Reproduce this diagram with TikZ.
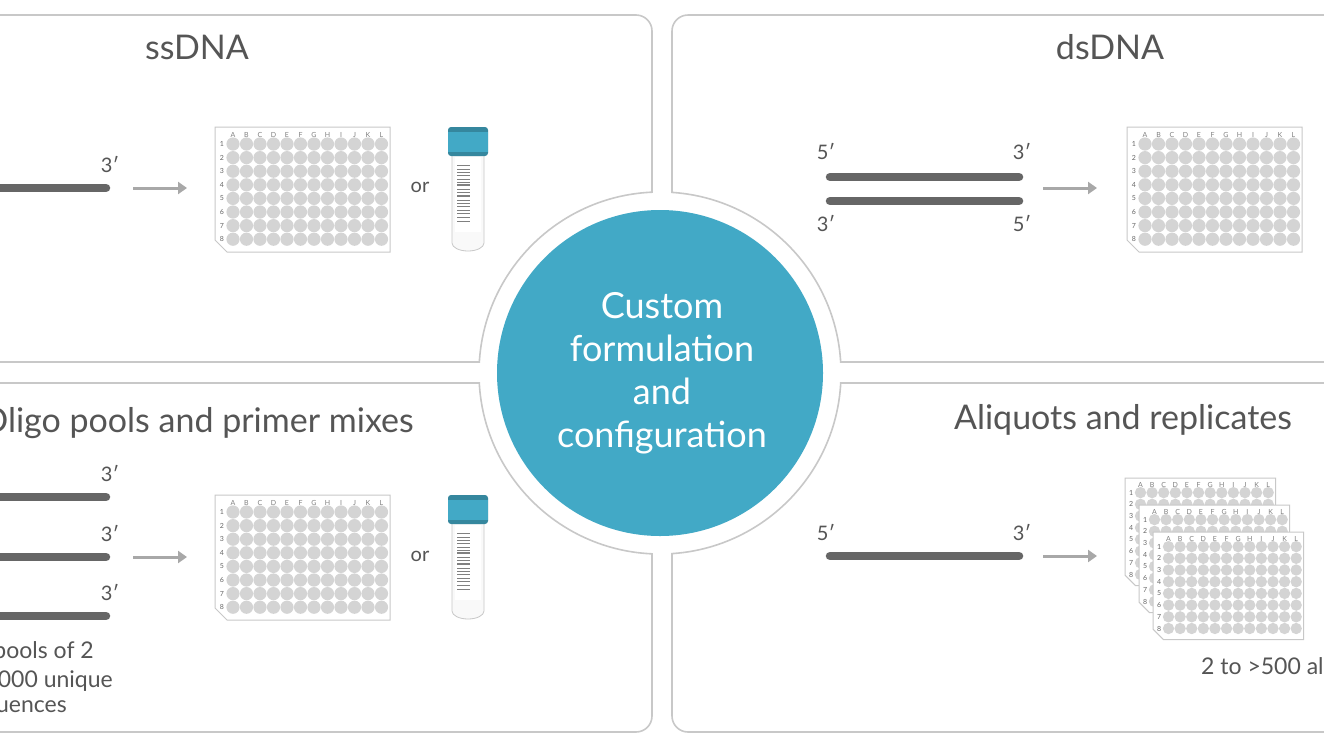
\documentclass[tikz,border=0pt]{standalone}
\usepackage{fontspec}
\setmainfont{Lato}
\usetikzlibrary{arrows.meta}
\begin{document}
\definecolor{teal1}{HTML}{42A9C6}
\definecolor{pan}{HTML}{C8C8C8}
\definecolor{strand}{HTML}{666666}
\definecolor{arr}{HTML}{A8A8A8}
\definecolor{well}{HTML}{D4D4D4}
\definecolor{txt}{HTML}{555555}
\begin{tikzpicture}[x=1pt,y=-1pt,
  panel/.style={draw=pan,line width=1.6pt,rounded corners=16pt,fill=white},
  strand/.style={line width=8.5pt,line cap=round,draw=strand},
  arrow/.style={line width=3pt,draw=arr,-{Triangle[length=9pt,width=12pt]}},
  lbl/.style={text=txt,font=\fontsize{20}{21}\selectfont,inner sep=0pt},
  big/.style={text=txt,font=\fontsize{23}{24}\selectfont,inner sep=0pt},
  title/.style={text=txt,font=\fontsize{34}{36}\selectfont,inner sep=0pt},
  pics/plate/.style={code={
    \draw[pan,line width=1pt,fill=white] (0,0) -- (175,0) -- (175,125) -- (12,125) -- (0,113) -- cycle;
    \foreach \l [count=\i] in {A,B,C,D,E,F,G,H,I,J,K,L}
      \node[text=gray,font=\fontsize{7}{7}\selectfont,inner sep=0pt] at (18+\i*13.5-13.5,8) {\l};
    \foreach \r in {1,...,8}{
      \node[text=gray!80!black,font=\fontsize{7}{7}\selectfont,inner sep=0pt] at (7,17+\r*13.6-13.6) {\r};
      \foreach \c in {1,...,12}
        \fill[well] (18+\c*13.5-13.5,17+\r*13.6-13.6) circle (6.6);}
  }},
  pics/tube/.style={code={
    \draw[pan,line width=0.8pt,fill=gray!5] (4,27) -- (4,116) arc[start angle=180,end angle=0,x radius=16,y radius=8] -- (36,27);
    \fill[white] (7,30) rectangle (33,105);
    \fill[teal1!80!black,rounded corners=3pt] (0,0) rectangle (40,29);
    \fill[teal1] (0,5) rectangle (40,25);
    \foreach \yy/\w in {38/0.6,42/0.6,45/0.6,48/0.8,52/0.6,55/0.6,58/1.2,62/0.6,65/0.6,69/1.2,73/0.6,76/0.6,79/0.6,83/0.6,86/0.6,90/0.6,94/0.6}
      \draw[gray,line width=\w pt] (9,\yy) -- (22,\yy);
  }}
]
\useasboundingbox (0,0) rectangle (1324,745);
\begin{scope}
\clip (0,0) rectangle (1324,745);
% panels
\draw[panel] (-40,15) rectangle (652,362);
\draw[panel] (672,15) rectangle (1380,362);
\draw[panel] (-40,383) rectangle (652,732);
\draw[panel] (672,383) rectangle (1380,732);
% ring
\draw[pan,line width=1.6pt,fill=white] (660,373) circle (181);
\fill[white] (653,100) rectangle (671,650);
\fill[white] (380,363) rectangle (940,382);
\fill[teal1] (660,373) circle (163);
\node[text=white,align=center,font=\fontsize{36}{43}\selectfont] (c) at (662,373) {Custom\\formulation\\and\\configuration};
% titles
\node[title] (t1) at (197,47) {ssDNA};
\node[title] (t2) at (1110,47) {dsDNA};
\node[title,anchor=east] (t3) at (414,423) {Oligo pools and primer mixes};
\node[title] (t4) at (1123,420) {Aliquots and replicates};
% ssDNA
\coordinate (s1a) at (-20,188); \coordinate (s1b) at (106,188);
\draw[strand] (s1a) -- (s1b);
\node[lbl] (l1) at (110,165) {3′};
\coordinate (a1a) at (133,188); \coordinate (a1b) at (187,188);
\draw[arrow] (a1a) -- (a1b);
\pic at (215,127) {plate};
\node[lbl] (or1) at (420,187) {or};
\pic at (448,127) {tube};
% dsDNA
\coordinate (d1a) at (830,177); \coordinate (d1b) at (1019,177);
\coordinate (d2a) at (830,201); \coordinate (d2b) at (1019,201);
\draw[strand] (d1a) -- (d1b); \draw[strand] (d2a) -- (d2b);
\node[lbl] (l2) at (826,152) {5′};
\node[lbl] (l3) at (1022,152) {3′};
\node[lbl] (l4) at (826,224) {3′};
\node[lbl] (l5) at (1022,224) {5′};
\coordinate (a2a) at (1043,188); \coordinate (a2b) at (1097,188);
\draw[arrow] (a2a) -- (a2b);
\pic at (1127,127) {plate};
\node[lbl] (or2) at (1338,187) {or};
% pools
\foreach \yy/\n in {497/p1,557/p2,616/p3}{
  \draw[strand] (-20,\yy) coordinate (\n a) -- (106,\yy) coordinate (\n b);
  \node[lbl] (\n l) at (110,\yy-23) {3′};}
\coordinate (a3a) at (133,557); \coordinate (a3b) at (187,557);
\draw[arrow] (a3a) -- (a3b);
\pic at (215,495) {plate};
\node[lbl] (or3) at (420,556) {or};
\pic at (448,495) {tube};
\node[big,anchor=east] (q1) at (94,652) {Oligo pools of 2};
\node[big,anchor=east] (q2) at (113,681) {to 10,000 unique};
\node[big,anchor=east] (q3) at (67,709) {sequences};
% aliquots
\coordinate (e1a) at (830,556); \coordinate (e1b) at (1019,556);
\draw[strand] (e1a) -- (e1b);
\node[lbl] (l6) at (826,533) {5′};
\node[lbl] (l7) at (1022,533) {3′};
\coordinate (a4a) at (1043,556); \coordinate (a4b) at (1097,556);
\draw[arrow] (a4a) -- (a4b);
\pic[scale=0.86] at (1125,478) {plate};
\pic[scale=0.86] at (1139,505) {plate};
\pic[scale=0.86] at (1153,532) {plate};
\node[big,anchor=west] (q4) at (1201,668) {2 to >500 aliquots};
\end{scope}
\end{tikzpicture}
\end{document}
